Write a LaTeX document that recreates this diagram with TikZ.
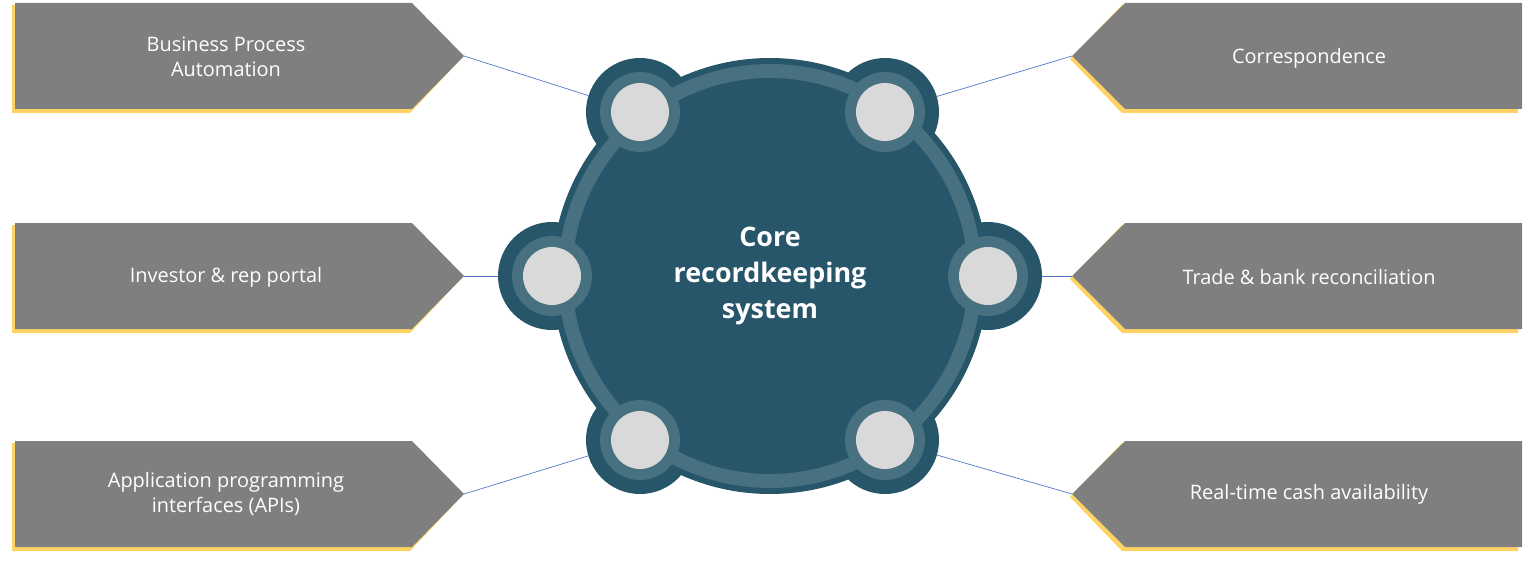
\documentclass[tikz,border=0pt]{standalone}
\usepackage{fontspec}
\setmainfont{Open Sans}
\begin{document}
\begin{tikzpicture}[x=1bp,y=-1bp,
  box/.style={fill={rgb,255:red,127;green,127;blue,127}},
  glow/.style={fill={rgb,255:red,255;green,200;blue,60},opacity=0.8},
  lbl/.style={text=white,font=\fontsize{20}{25}\selectfont,align=center},
  conn/.style={draw={rgb,255:red,80;green,120;blue,200},line width=0.7bp},
  sat/.style={circle,fill=dk,minimum size=108bp,inner sep=0pt}]
\useasboundingbox (0,0) rectangle (1536,568);
\definecolor{dk}{RGB}{39,86,106}
\definecolor{lt}{RGB}{71,112,128}
\definecolor{gr}{RGB}{217,217,217}
% left boxes
\foreach \y/\n in {56/L1,276/L2,494/L3}{
  \fill[glow] (12,\y-51) -- (410,\y-51) -- (461,\y+3) -- (410,\y+57) -- (12,\y+57) -- cycle;
  \fill[box] (15,\y-53) -- (412,\y-53) -- (464,\y) -- (412,\y+53) -- (15,\y+53) -- cycle;
  \coordinate (\n) at (464,\y);
}
\foreach \y/\n in {56/R1,276/R2,494/R3}{
  \fill[glow] (1122,\y-51) -- (1518,\y-51) -- (1518,\y+57) -- (1122,\y+57) -- (1070,\y+3) -- cycle;
  \fill[box] (1125,\y-53) -- (1522,\y-53) -- (1522,\y+53) -- (1125,\y+53) -- (1072,\y) -- cycle;
  \coordinate (\n) at (1072,\y);
}
\node[lbl] (t1) at (226,57) {Business Process\\Automation};
\node[lbl] (t2) at (226,277) {Investor \& rep portal};
\node[lbl] (t3) at (226,494) {Application programming\\interfaces (APIs)};
\node[lbl] (t4) at (1309,58) {Correspondence};
\node[lbl] (t5) at (1309,277) {Trade \& bank reconciliation};
\node[lbl] (t6) at (1309,494) {Real-time cash availability};
% satellites outer
\foreach \n/\x/\y in {a/640/112,b/885/112,c/552/276,d/988/276,e/640/440,f/885/440}{
  \node[sat] (\n) at (\x,\y) {};
}
\fill[dk] (770,276) circle (218);
\draw[lt,line width=14bp] (770,276) circle (205);
\foreach \n in {a,b,c,d,e,f}{
  \fill[lt] (\n) circle (40);
  \fill[gr] (\n) circle (29);
}
\node[text=white,font=\bfseries\fontsize{27}{36}\selectfont,align=center] (core) at (770,276) {Core\\recordkeeping\\system};
\draw[conn] (L1) -- (a);
\draw[conn] (L2) -- (c);
\draw[conn] (L3) -- (e);
\draw[conn] (R1) -- (b);
\draw[conn] (R2) -- (d);
\draw[conn] (R3) -- (f);
\end{tikzpicture}
\end{document}
